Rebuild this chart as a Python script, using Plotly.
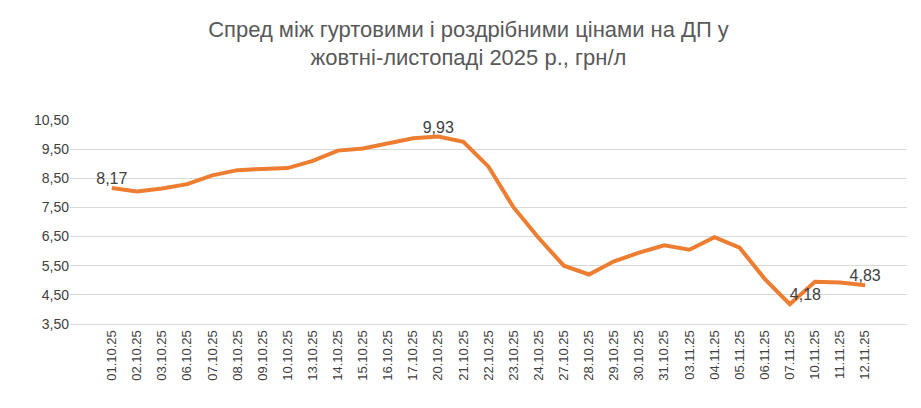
import plotly.graph_objects as go

dates = ["01.10.25", "02.10.25", "03.10.25", "06.10.25", "07.10.25", "08.10.25", "09.10.25",
         "10.10.25", "13.10.25", "14.10.25", "15.10.25", "16.10.25", "17.10.25", "20.10.25",
         "21.10.25", "22.10.25", "23.10.25", "24.10.25", "27.10.25", "28.10.25", "29.10.25",
         "30.10.25", "31.10.25", "03.11.25", "04.11.25", "05.11.25", "06.11.25", "07.11.25",
         "10.11.25", "11.11.25", "12.11.25"]
spread = [8.17, 8.05, 8.15, 8.30, 8.60, 8.78, 8.82, 8.85, 9.10, 9.45, 9.52, 9.70, 9.87, 9.93,
          9.75, 8.90, 7.50, 6.45, 5.50, 5.20, 5.65, 5.95, 6.20, 6.05, 6.48, 6.12, 5.05, 4.18,
          4.95, 4.92, 4.83]
labelled = ["01.10.25", "20.10.25", "07.11.25", "12.11.25"]
y_ticks = [3.5, 4.5, 5.5, 6.5, 7.5, 8.5, 9.5, 10.5]

text = [f"{v:.2f}".replace(".", ",") if d in labelled else "" for d, v in zip(dates, spread)]
positions = ["top right" if d == "07.11.25" else "top center" for d in dates]

fig = go.Figure(go.Scatter(
    x=dates, y=spread, mode="lines+text", text=text, textposition=positions,
    textfont=dict(size=16, color="#404040"),
    line=dict(color="#ED7D31", width=4), cliponaxis=False,
))

fig.update_layout(
    width=921, height=408,
    paper_bgcolor="white", plot_bgcolor="white",
    font=dict(family="Liberation Sans, Arial", color="#595959"),
    title=dict(text="Спред між гуртовими і роздрібними цінами на ДП у<br>жовтні-листопаді 2025 р., грн/л",
               x=0.5, xanchor="center", y=0.93, yanchor="top",
               font=dict(size=22, color="#595959")),
    margin=dict(l=62, r=22, t=112, b=92),
    showlegend=False,
)
fig.update_xaxes(type="category", tickangle=-90, tickfont=dict(size=13, color="#404040"),
                 showline=True, linecolor="#D9D9D9", ticks="", showgrid=False)
fig.update_yaxes(range=[3.5, 10.5], tickvals=y_ticks,
                 ticktext=[f"{v:.2f}".replace(".", ",") for v in y_ticks],
                 tickfont=dict(size=14, color="#404040"),
                 gridcolor="#D9D9D9", zeroline=False, automargin=False)

fig.write_html("out.html")
